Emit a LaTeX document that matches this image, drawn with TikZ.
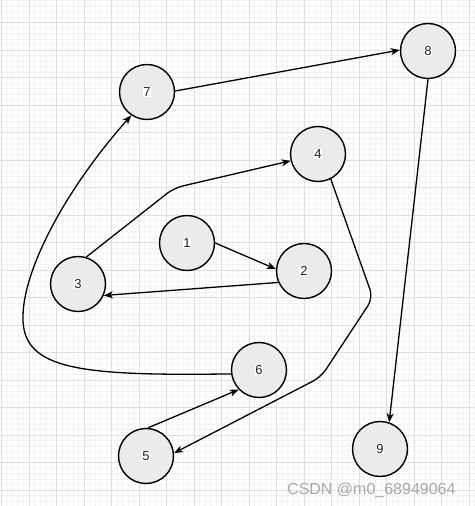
\documentclass[tikz,border=0pt]{standalone}
\usepackage{fontspec}
\setmainfont{Liberation Sans}
\usetikzlibrary{arrows.meta}
\definecolor{nodefill}{HTML}{EBEBEB}
\definecolor{gridminor}{HTML}{F3F3F3}
\definecolor{gridmajor}{HTML}{DEDEDE}
\definecolor{digitcol}{HTML}{222222}
\definecolor{markcol}{HTML}{A8A8A8}
\newcommand\vlbl[1]{{\setlength\fboxsep{0.8pt}\colorbox{white}{#1}}}
\tikzset{
  vtx/.style={circle, draw=black, fill=nodefill, line width=1.4pt,
    minimum size=55pt, inner sep=0pt, font=\fontsize{13}{15}\selectfont,
    text=digitcol},
  edge/.style={line width=1.3pt, draw=black,
    -{Stealth[length=9pt,width=7pt,inset=2.5pt]}},
  minorline/.style={draw=gridminor, line width=0.7pt},
  majorline/.style={draw=gridmajor, line width=0.9pt},
}
\begin{document}
\begin{tikzpicture}[x=1pt,y=1pt]
\useasboundingbox (0,0) rectangle (474,506);
\fill[white] (0,0) rectangle (474,506);
% grid
\foreach \j in {-5,...,81} \draw[minorline] ({29+5.5*\j},0) -- ({29+5.5*\j},506);
\foreach \j in {-4,...,88} \draw[minorline] (0,{483.3-5.5*\j}) -- (474,{483.3-5.5*\j});
\foreach \k in {-1,...,16} \draw[majorline] ({29+27.5*\k},0) -- ({29+27.5*\k},506);
\foreach \k in {-1,...,17} \draw[majorline] (0,{483.3-27.5*\k}) -- (474,{483.3-27.5*\k});
% nodes
\node[vtx] (n1) at (187,263) {\vlbl{1}};
\node[vtx] (n2) at (304,235) {\vlbl{2}};
\node[vtx] (n3) at (78,222) {\vlbl{3}};
\node[vtx] (n4) at (318,352) {\vlbl{4}};
\node[vtx] (n5) at (146,50) {\vlbl{5}};
\node[vtx] (n6) at (259,136) {\vlbl{6}};
\node[vtx] (n7) at (147,414) {\vlbl{7}};
\node[vtx] (n8) at (428,455) {\vlbl{8}};
\node[vtx] (n9) at (380,57) {\vlbl{9}};
% waypoints
\coordinate (b34) at (174,318);
\coordinate (b45a) at (373,208);
\coordinate (b45b) at (321,129);
% edges
\draw[edge] (n7.2) -- (n8.178);
\draw[edge] (n8.-90) -- (n9.71);
\draw[edge] (n1.0) -- (n2.176);
\draw[edge] (n2.204) -- (n3.336);
\draw[edge, rounded corners=9pt] (n3.73) -- (b34) -- (n4.194);
\draw[edge, rounded corners=9pt] (n4.-63) -- (b45a) -- (b45b) -- (n5.6);
\draw[edge] (n5.86) -- (n6.224);
\draw[edge] (n6.188) .. controls (80,130) and (22,136) .. (23,189)
  .. controls (23,236) and (65,316) .. (n7.236);
% watermark
\node[anchor=base west, inner sep=0pt, text=markcol,
  font=\fontsize{16}{18}\selectfont] (mark) at (287,11) {CSDN @m0\_68949064};
\end{tikzpicture}
\end{document}
